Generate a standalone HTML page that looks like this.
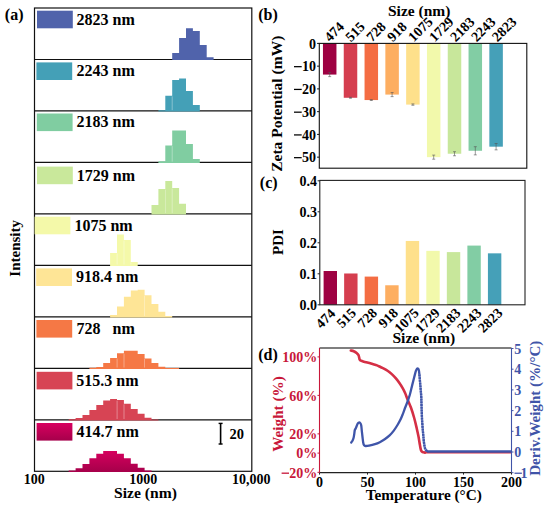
<!DOCTYPE html>
<html><head><meta charset="utf-8"><style>
html,body{margin:0;padding:0;background:#fff;}
body{width:550px;height:509px;overflow:hidden;}
svg{display:block;}
</style></head><body>
<svg width="550" height="509" viewBox="0 0 550 509" font-family="Liberation Serif" font-weight="bold">
<rect width="550" height="509" fill="#fff"/>
<defs><linearGradient id="gmag" x1="0" y1="0" x2="0" y2="1"><stop offset="0" stop-color="#d8005f"/><stop offset="1" stop-color="#a6004b"/></linearGradient><linearGradient id="gmag2" gradientUnits="userSpaceOnUse" x1="0" y1="450" x2="0" y2="471"><stop offset="0" stop-color="#d8005f"/><stop offset="1" stop-color="#a8004b"/></linearGradient></defs>
<line x1="34.50" y1="59.48" x2="251.80" y2="59.48" stroke="#111" stroke-width="1.2" />
<line x1="34.50" y1="110.96" x2="251.80" y2="110.96" stroke="#111" stroke-width="1.2" />
<line x1="34.50" y1="162.43" x2="251.80" y2="162.43" stroke="#111" stroke-width="1.2" />
<line x1="34.50" y1="213.91" x2="251.80" y2="213.91" stroke="#111" stroke-width="1.2" />
<line x1="34.50" y1="265.39" x2="251.80" y2="265.39" stroke="#111" stroke-width="1.2" />
<line x1="34.50" y1="316.87" x2="251.80" y2="316.87" stroke="#111" stroke-width="1.2" />
<line x1="34.50" y1="368.34" x2="251.80" y2="368.34" stroke="#111" stroke-width="1.2" />
<line x1="34.50" y1="419.82" x2="251.80" y2="419.82" stroke="#111" stroke-width="1.2" />
<rect x="34.5" y="8.0" width="217.30" height="463.30" fill="none" stroke="#111" stroke-width="1.2"/>
<rect x="37.00" y="10.70" width="35.80" height="17.60" fill="#5063ab" />
<text x="76.60" y="24.60" font-size="16" text-anchor="start" fill="#000" >2823 nm</text>
<path d="M172.20,60.08 L172.20,52.90 L179.10,52.90 L179.10,38.00 L186.00,38.00 L186.00,28.20 L192.90,28.20 L192.90,31.10 L199.80,31.10 L199.80,45.10 L206.70,45.10 L206.70,57.30 L213.60,57.30 L213.60,60.08 Z" fill="#5063ab"/>
<rect x="36.40" y="62.40" width="35.80" height="17.60" fill="#44a0b7" />
<text x="76.60" y="76.30" font-size="16" text-anchor="start" fill="#000" >2243 nm</text>
<path d="M158.40,111.56 L158.40,110.20 L165.30,110.20 L165.30,95.80 L172.20,95.80 L172.20,80.00 L179.10,80.00 L179.10,78.50 L186.00,78.50 L186.00,90.90 L192.90,90.90 L192.90,104.90 L199.80,104.90 L199.80,111.56 Z" fill="#44a0b7"/>
<line x1="172.20" y1="96.30" x2="172.20" y2="110.16" stroke="#fff" stroke-width="0.6" opacity="0.6"/>
<rect x="36.80" y="113.50" width="35.80" height="17.60" fill="#80cda1" />
<text x="76.60" y="127.40" font-size="16" text-anchor="start" fill="#000" >2183 nm</text>
<path d="M158.40,163.03 L158.40,161.20 L165.30,161.20 L165.30,145.60 L172.20,145.60 L172.20,130.60 L179.10,130.60 L179.10,130.60 L186.00,130.60 L186.00,144.00 L192.90,144.00 L192.90,158.90 L199.80,158.90 L199.80,163.03 Z" fill="#80cda1"/>
<line x1="172.20" y1="146.10" x2="172.20" y2="161.63" stroke="#fff" stroke-width="0.6" opacity="0.6"/>
<rect x="37.00" y="166.60" width="35.80" height="17.60" fill="#c9e89b" />
<text x="76.80" y="180.50" font-size="16" text-anchor="start" fill="#000" >1729 nm</text>
<path d="M151.50,214.51 L151.50,205.10 L158.40,205.10 L158.40,189.10 L165.30,189.10 L165.30,180.90 L172.20,180.90 L172.20,188.00 L179.10,188.00 L179.10,203.80 L186.00,203.80 L186.00,214.51 Z" fill="#c9e89b"/>
<line x1="165.30" y1="189.60" x2="165.30" y2="213.11" stroke="#fff" stroke-width="0.6" opacity="0.6"/>
<line x1="172.20" y1="188.50" x2="172.20" y2="213.11" stroke="#fff" stroke-width="0.6" opacity="0.6"/>
<rect x="34.60" y="216.70" width="35.80" height="17.60" fill="#f4f9a9" />
<text x="74.40" y="230.60" font-size="16" text-anchor="start" fill="#000" >1075 nm</text>
<path d="M110.10,265.99 L110.10,252.90 L117.00,252.90 L117.00,234.40 L123.90,234.40 L123.90,240.00 L130.80,240.00 L130.80,262.00 L137.70,262.00 L137.70,265.99 Z" fill="#f4f9a9"/>
<line x1="117.10" y1="253.40" x2="117.10" y2="264.59" stroke="#fff" stroke-width="0.6" opacity="0.6"/>
<line x1="124.00" y1="240.50" x2="124.00" y2="264.59" stroke="#fff" stroke-width="0.6" opacity="0.6"/>
<line x1="130.90" y1="262.50" x2="130.90" y2="264.59" stroke="#fff" stroke-width="0.6" opacity="0.6"/>
<rect x="36.20" y="268.40" width="35.80" height="17.60" fill="#fee596" />
<text x="76.00" y="282.30" font-size="16" text-anchor="start" fill="#000" >918.4 nm</text>
<path d="M110.10,317.47 L110.10,314.90 L117.00,314.90 L117.00,306.60 L123.90,306.60 L123.90,296.80 L130.80,296.80 L130.80,290.50 L137.70,290.50 L137.70,289.80 L144.60,289.80 L144.60,295.20 L151.50,295.20 L151.50,304.10 L158.40,304.10 L158.40,311.80 L165.30,311.80 L165.30,316.00 L172.20,316.00 L172.20,317.47 Z" fill="#fee596"/>
<line x1="144.60" y1="295.70" x2="144.60" y2="316.07" stroke="#fff" stroke-width="0.6" opacity="0.6"/>
<rect x="36.40" y="320.00" width="35.80" height="17.60" fill="#f57845" />
<text x="76.60" y="333.90" font-size="16" text-anchor="start" fill="#000" >728&#160;&#160;&#160;nm</text>
<path d="M89.40,368.94 L89.40,367.80 L96.30,367.80 L96.30,367.00 L103.20,367.00 L103.20,363.00 L110.10,363.00 L110.10,358.00 L117.00,358.00 L117.00,353.20 L123.90,353.20 L123.90,350.70 L130.80,350.70 L130.80,350.80 L137.70,350.80 L137.70,353.90 L144.60,353.90 L144.60,358.50 L151.50,358.50 L151.50,363.10 L158.40,363.10 L158.40,366.70 L165.30,366.70 L165.30,367.94 L172.20,367.94 L172.20,367.94 L179.10,367.94 L179.10,368.94 Z" fill="#f57845"/>
<line x1="117.10" y1="358.50" x2="117.10" y2="367.54" stroke="#fff" stroke-width="0.6" opacity="0.6"/>
<line x1="124.00" y1="353.70" x2="124.00" y2="367.54" stroke="#fff" stroke-width="0.6" opacity="0.6"/>
<line x1="144.60" y1="359.00" x2="144.60" y2="367.54" stroke="#fff" stroke-width="0.6" opacity="0.6"/>
<rect x="36.60" y="371.80" width="35.80" height="17.60" fill="#d74454" />
<text x="76.30" y="385.70" font-size="16" text-anchor="start" fill="#000" >515.3 nm</text>
<path d="M68.70,420.42 L68.70,419.30 L75.60,419.30 L75.60,417.90 L82.50,417.90 L82.50,415.00 L89.40,415.00 L89.40,410.10 L96.30,410.10 L96.30,405.00 L103.20,405.00 L103.20,400.50 L110.10,400.50 L110.10,399.10 L117.00,399.10 L117.00,400.10 L123.90,400.10 L123.90,403.80 L130.80,403.80 L130.80,409.00 L137.70,409.00 L137.70,413.70 L144.60,413.70 L144.60,417.80 L151.50,417.80 L151.50,419.42 L158.40,419.42 L158.40,420.42 Z" fill="#d74454"/>
<line x1="117.10" y1="400.60" x2="117.10" y2="419.02" stroke="#fff" stroke-width="0.6" opacity="0.6"/>
<line x1="124.00" y1="404.30" x2="124.00" y2="419.02" stroke="#fff" stroke-width="0.6" opacity="0.6"/>
<rect x="36.60" y="423.00" width="35.80" height="17.60" fill="url(#gmag)" />
<text x="76.60" y="436.90" font-size="16" text-anchor="start" fill="#000" >414.7 nm</text>
<path d="M68.70,471.90 L68.70,470.40 L75.60,470.40 L75.60,468.20 L82.50,468.20 L82.50,464.10 L89.40,464.10 L89.40,458.30 L96.30,458.30 L96.30,453.80 L103.20,453.80 L103.20,450.90 L110.10,450.90 L110.10,450.90 L117.00,450.90 L117.00,453.80 L123.90,453.80 L123.90,458.30 L130.80,458.30 L130.80,463.70 L137.70,463.70 L137.70,467.80 L144.60,467.80 L144.60,470.40 L151.50,470.40 L151.50,471.90 Z" fill="url(#gmag2)"/>
<text x="34.30" y="483.80" font-size="14" text-anchor="middle" fill="#000" >100</text>
<text x="143.30" y="483.80" font-size="14" text-anchor="middle" fill="#000" >1000</text>
<text x="251.20" y="483.80" font-size="14" text-anchor="middle" fill="#000" >10,000</text>
<text transform="translate(145.5,498.4) scale(1.04,1)" font-size="15" text-anchor="middle">Size (nm)</text>
<text transform="translate(20.4,248.3) rotate(-90)" font-size="15" text-anchor="middle">Intensity</text>
<text x="4.80" y="19.85" font-size="16" text-anchor="start" fill="#000" >(a)</text>
<line x1="220.60" y1="423.20" x2="220.60" y2="444.20" stroke="#000" stroke-width="1.6" />
<line x1="218.60" y1="423.40" x2="222.60" y2="423.40" stroke="#000" stroke-width="1.4" />
<line x1="218.60" y1="444.00" x2="222.60" y2="444.00" stroke="#000" stroke-width="1.4" />
<text x="229.40" y="439.00" font-size="14.5" text-anchor="start" fill="#000" >20</text>
<rect x="322.95" y="43.40" width="13.50" height="31.17" fill="#9e0142" />
<line x1="329.70" y1="76.61" x2="329.70" y2="72.52" stroke="#555" stroke-width="0.6" />
<line x1="328.20" y1="76.61" x2="331.20" y2="76.61" stroke="#555" stroke-width="0.6" />
<line x1="328.20" y1="72.52" x2="331.20" y2="72.52" stroke="#555" stroke-width="0.6" />
<text transform="translate(330.00,42.5) rotate(-45)" font-size="14">474</text>
<rect x="343.75" y="43.40" width="13.50" height="54.37" fill="#d53e4f" />
<line x1="350.50" y1="98.23" x2="350.50" y2="97.32" stroke="#555" stroke-width="0.6" />
<line x1="349.00" y1="98.23" x2="352.00" y2="98.23" stroke="#555" stroke-width="0.6" />
<line x1="349.00" y1="97.32" x2="352.00" y2="97.32" stroke="#555" stroke-width="0.6" />
<text transform="translate(350.95,42.5) rotate(-45)" font-size="14">515</text>
<rect x="364.55" y="43.40" width="13.50" height="56.65" fill="#f46d43" />
<line x1="371.30" y1="100.50" x2="371.30" y2="99.59" stroke="#555" stroke-width="0.6" />
<line x1="369.80" y1="100.50" x2="372.80" y2="100.50" stroke="#555" stroke-width="0.6" />
<line x1="369.80" y1="99.59" x2="372.80" y2="99.59" stroke="#555" stroke-width="0.6" />
<text transform="translate(371.90,42.5) rotate(-45)" font-size="14">728</text>
<rect x="385.35" y="43.40" width="13.50" height="51.19" fill="#fdae61" />
<line x1="392.10" y1="96.63" x2="392.10" y2="92.54" stroke="#555" stroke-width="0.6" />
<line x1="390.60" y1="96.63" x2="393.60" y2="96.63" stroke="#555" stroke-width="0.6" />
<line x1="390.60" y1="92.54" x2="393.60" y2="92.54" stroke="#555" stroke-width="0.6" />
<text transform="translate(392.85,42.5) rotate(-45)" font-size="14">918</text>
<rect x="406.15" y="43.40" width="13.50" height="61.20" fill="#fee08b" />
<line x1="412.90" y1="105.28" x2="412.90" y2="103.91" stroke="#555" stroke-width="0.6" />
<line x1="411.40" y1="105.28" x2="414.40" y2="105.28" stroke="#555" stroke-width="0.6" />
<line x1="411.40" y1="103.91" x2="414.40" y2="103.91" stroke="#555" stroke-width="0.6" />
<text transform="translate(413.80,42.5) rotate(-45)" font-size="14">1075</text>
<rect x="426.95" y="43.40" width="13.50" height="113.75" fill="#f2f9ab" />
<line x1="433.70" y1="159.20" x2="433.70" y2="155.10" stroke="#555" stroke-width="0.6" />
<line x1="432.20" y1="159.20" x2="435.20" y2="159.20" stroke="#555" stroke-width="0.6" />
<line x1="432.20" y1="155.10" x2="435.20" y2="155.10" stroke="#555" stroke-width="0.6" />
<text transform="translate(434.75,42.5) rotate(-45)" font-size="14">1729</text>
<rect x="447.75" y="43.40" width="13.50" height="110.34" fill="#c8e79b" />
<line x1="454.50" y1="155.78" x2="454.50" y2="151.69" stroke="#555" stroke-width="0.6" />
<line x1="453.00" y1="155.78" x2="456.00" y2="155.78" stroke="#555" stroke-width="0.6" />
<line x1="453.00" y1="151.69" x2="456.00" y2="151.69" stroke="#555" stroke-width="0.6" />
<text transform="translate(455.70,42.5) rotate(-45)" font-size="14">2183</text>
<rect x="468.55" y="43.40" width="13.50" height="107.38" fill="#82cda4" />
<line x1="475.30" y1="154.88" x2="475.30" y2="146.69" stroke="#555" stroke-width="0.6" />
<line x1="473.80" y1="154.88" x2="476.80" y2="154.88" stroke="#555" stroke-width="0.6" />
<line x1="473.80" y1="146.69" x2="476.80" y2="146.69" stroke="#555" stroke-width="0.6" />
<text transform="translate(476.65,42.5) rotate(-45)" font-size="14">2243</text>
<rect x="489.35" y="43.40" width="13.50" height="103.28" fill="#45a0b8" />
<line x1="496.10" y1="149.87" x2="496.10" y2="143.50" stroke="#555" stroke-width="0.6" />
<line x1="494.60" y1="149.87" x2="497.60" y2="149.87" stroke="#555" stroke-width="0.6" />
<line x1="494.60" y1="143.50" x2="497.60" y2="143.50" stroke="#555" stroke-width="0.6" />
<text transform="translate(497.60,42.5) rotate(-45)" font-size="14">2823</text>
<rect x="319.3" y="43.4" width="207.50" height="124.80" fill="none" stroke="#111" stroke-width="1.1"/>
<line x1="317.10" y1="43.40" x2="319.30" y2="43.40" stroke="#111" stroke-width="1" />
<text x="316.00" y="48.60" font-size="14" text-anchor="end" fill="#000" >0</text>
<line x1="317.10" y1="66.15" x2="319.30" y2="66.15" stroke="#111" stroke-width="1" />
<text x="316.00" y="71.35" font-size="14" text-anchor="end" fill="#000" >10</text>
<rect x="294.00" y="66.05" width="7.70" height="1.25" fill="#000" />
<line x1="317.10" y1="88.90" x2="319.30" y2="88.90" stroke="#111" stroke-width="1" />
<text x="316.00" y="94.10" font-size="14" text-anchor="end" fill="#000" >20</text>
<rect x="294.00" y="88.80" width="7.70" height="1.25" fill="#000" />
<line x1="317.10" y1="111.65" x2="319.30" y2="111.65" stroke="#111" stroke-width="1" />
<text x="316.00" y="116.85" font-size="14" text-anchor="end" fill="#000" >30</text>
<rect x="294.00" y="111.55" width="7.70" height="1.25" fill="#000" />
<line x1="317.10" y1="134.40" x2="319.30" y2="134.40" stroke="#111" stroke-width="1" />
<text x="316.00" y="139.60" font-size="14" text-anchor="end" fill="#000" >40</text>
<rect x="294.00" y="134.30" width="7.70" height="1.25" fill="#000" />
<line x1="317.10" y1="157.15" x2="319.30" y2="157.15" stroke="#111" stroke-width="1" />
<text x="316.00" y="162.35" font-size="14" text-anchor="end" fill="#000" >50</text>
<rect x="294.00" y="157.05" width="7.70" height="1.25" fill="#000" />
<text transform="translate(419.2,15.6) scale(1.035,1)" font-size="15" text-anchor="middle">Size (nm)</text>
<text transform="translate(281.8,103.75) rotate(-90) scale(1.035,1)" font-size="15" text-anchor="middle">Zeta Potential (mW)</text>
<text x="258.20" y="20.00" font-size="16" text-anchor="start" fill="#000" >(b)</text>
<rect x="323.60" y="271.01" width="13.40" height="33.79" fill="#9e0142" />
<text transform="translate(336.10,314.30) rotate(-45)" font-size="14" text-anchor="end">474</text>
<rect x="344.14" y="273.49" width="13.40" height="31.31" fill="#d53e4f" />
<text transform="translate(357.01,313.80) rotate(-45)" font-size="14" text-anchor="end">515</text>
<rect x="364.68" y="276.59" width="13.40" height="28.21" fill="#f46d43" />
<text transform="translate(377.92,313.80) rotate(-45)" font-size="14" text-anchor="end">728</text>
<rect x="385.22" y="285.27" width="13.40" height="19.53" fill="#fdae61" />
<text transform="translate(398.83,313.80) rotate(-45)" font-size="14" text-anchor="end">918</text>
<rect x="405.76" y="240.94" width="13.40" height="63.86" fill="#fee08b" />
<text transform="translate(419.74,313.80) rotate(-45)" font-size="14" text-anchor="end">1075</text>
<rect x="426.30" y="250.86" width="13.40" height="53.94" fill="#f2f9ab" />
<text transform="translate(440.65,313.80) rotate(-45)" font-size="14" text-anchor="end">1729</text>
<rect x="446.84" y="252.10" width="13.40" height="52.70" fill="#c8e79b" />
<text transform="translate(461.56,313.80) rotate(-45)" font-size="14" text-anchor="end">2183</text>
<rect x="467.38" y="245.59" width="13.40" height="59.21" fill="#82cda4" />
<text transform="translate(482.47,313.80) rotate(-45)" font-size="14" text-anchor="end">2243</text>
<rect x="487.92" y="253.34" width="13.40" height="51.46" fill="#45a0b8" />
<text transform="translate(503.38,313.80) rotate(-45)" font-size="14" text-anchor="end">2823</text>
<rect x="319.8" y="180.4" width="205.20" height="124.40" fill="none" stroke="#222" stroke-width="1.1"/>
<line x1="317.60" y1="304.80" x2="319.80" y2="304.80" stroke="#222" stroke-width="1" />
<text x="316.90" y="309.50" font-size="14" text-anchor="end" fill="#000" >0.0</text>
<line x1="317.60" y1="273.80" x2="319.80" y2="273.80" stroke="#222" stroke-width="1" />
<text x="316.90" y="278.50" font-size="14" text-anchor="end" fill="#000" >0.1</text>
<line x1="317.60" y1="242.80" x2="319.80" y2="242.80" stroke="#222" stroke-width="1" />
<text x="316.90" y="247.50" font-size="14" text-anchor="end" fill="#000" >0.2</text>
<line x1="317.60" y1="211.80" x2="319.80" y2="211.80" stroke="#222" stroke-width="1" />
<text x="316.90" y="216.50" font-size="14" text-anchor="end" fill="#000" >0.3</text>
<line x1="317.60" y1="180.80" x2="319.80" y2="180.80" stroke="#222" stroke-width="1" />
<text x="316.90" y="185.50" font-size="14" text-anchor="end" fill="#000" >0.4</text>
<text transform="translate(423.8,342.7) scale(1.04,1)" font-size="15" text-anchor="middle">Size (nm)</text>
<text transform="translate(283.3,242.0) rotate(-90)" font-size="15" text-anchor="middle">PDI</text>
<text x="259.80" y="187.80" font-size="16" text-anchor="start" fill="#000" >(c)</text>
<path d="M350.80,350.50 C351.28,350.62 352.73,350.78 353.70,351.20 C354.67,351.62 355.80,352.33 356.60,353.00 C357.40,353.67 358.07,354.42 358.50,355.20 C358.93,355.98 359.00,356.97 359.20,357.70 C359.40,358.43 359.42,359.10 359.70,359.60 C359.98,360.10 360.20,360.35 360.90,360.70 C361.60,361.05 362.67,361.35 363.90,361.70 C365.13,362.05 366.85,362.40 368.30,362.80 C369.75,363.20 371.15,363.67 372.60,364.10 C374.05,364.53 375.68,364.92 377.00,365.40 C378.32,365.88 379.35,366.47 380.50,367.00 C381.65,367.53 382.67,367.93 383.90,368.60 C385.13,369.27 386.58,370.08 387.90,371.00 C389.22,371.92 390.50,372.92 391.80,374.10 C393.10,375.28 394.40,376.58 395.70,378.10 C397.00,379.62 398.42,381.50 399.60,383.20 C400.78,384.90 401.88,386.67 402.80,388.30 C403.72,389.93 404.30,391.13 405.10,393.00 C405.90,394.87 406.62,397.03 407.60,399.50 C408.58,401.97 409.90,404.72 411.00,407.80 C412.10,410.88 413.25,414.60 414.20,418.00 C415.15,421.40 415.97,425.02 416.70,428.20 C417.43,431.38 418.07,434.33 418.60,437.10 C419.13,439.87 419.50,442.62 419.90,444.80 C420.30,446.98 420.55,448.97 421.00,450.20 C421.45,451.43 421.93,451.80 422.60,452.20 C423.27,452.60 424.60,452.53 425.00,452.60" fill="none" stroke="#d52f45" stroke-width="2.6" stroke-linejoin="round" stroke-linecap="round"/>
<line x1="424" y1="452.5" x2="511.5" y2="452.5" stroke="#d52f45" stroke-width="2.0"/>
<path d="M351.20,442.50 C351.43,442.15 352.20,441.20 352.60,440.40 C353.00,439.60 353.32,438.83 353.60,437.70 C353.88,436.57 354.10,434.87 354.30,433.60 C354.50,432.33 354.57,430.97 354.80,430.10 C355.03,429.23 355.38,429.08 355.70,428.40 C356.02,427.72 356.37,426.80 356.70,426.00 C357.03,425.20 357.33,424.18 357.70,423.60 C358.07,423.02 358.50,422.62 358.90,422.50 C359.30,422.38 359.72,422.43 360.10,422.90 C360.48,423.37 360.92,423.98 361.20,425.30 C361.48,426.62 361.58,428.85 361.80,430.80 C362.02,432.75 362.27,435.05 362.50,437.00 C362.73,438.95 362.95,441.13 363.20,442.50 C363.45,443.87 363.60,444.62 364.00,445.20 C364.40,445.78 364.75,445.93 365.60,446.00 C366.45,446.07 367.55,445.90 369.10,445.60 C370.65,445.30 373.12,444.77 374.90,444.20 C376.68,443.63 378.17,443.02 379.80,442.20 C381.43,441.38 383.07,440.43 384.70,439.30 C386.33,438.17 388.12,436.80 389.60,435.40 C391.08,434.00 392.28,432.63 393.60,430.90 C394.92,429.17 396.35,426.88 397.50,425.00 C398.65,423.12 399.60,421.47 400.50,419.60 C401.40,417.73 402.15,415.73 402.90,413.80 C403.65,411.87 404.25,409.97 405.00,408.00 C405.75,406.03 406.58,404.25 407.40,402.00 C408.22,399.75 409.10,397.32 409.90,394.50 C410.70,391.68 411.48,387.97 412.20,385.10 C412.92,382.23 413.60,379.62 414.20,377.30 C414.80,374.98 415.33,372.63 415.80,371.20 C416.27,369.77 416.62,369.12 417.00,368.70 C417.38,368.28 417.78,368.42 418.10,368.70 C418.42,368.98 418.68,369.43 418.90,370.40 C419.12,371.37 419.32,373.82 419.40,374.50" fill="none" stroke="#3f55a9" stroke-width="2.3" stroke-linejoin="round" stroke-linecap="round"/>
<path d="M419.40,374.50 C419.55,376.25 420.00,381.42 420.30,385.00 C420.60,388.58 420.98,392.20 421.20,396.00 C421.42,399.80 421.45,403.72 421.60,407.80 C421.75,411.88 421.85,416.25 422.10,420.50 C422.35,424.75 422.77,429.47 423.10,433.30 C423.43,437.13 423.72,440.83 424.10,443.50 C424.48,446.17 424.82,447.98 425.40,449.30 C425.98,450.62 427.23,451.05 427.60,451.40" fill="none" stroke="#8a98cc" stroke-width="2.2"/>
<path d="M419.40,374.50 C419.55,376.25 420.00,381.42 420.30,385.00 C420.60,388.58 420.98,392.20 421.20,396.00 C421.42,399.80 421.45,403.72 421.60,407.80 C421.75,411.88 421.85,416.25 422.10,420.50 C422.35,424.75 422.77,429.47 423.10,433.30 C423.43,437.13 423.72,440.83 424.10,443.50 C424.48,446.17 424.82,447.98 425.40,449.30 C425.98,450.62 427.23,451.05 427.60,451.40" fill="none" stroke="#3f55a9" stroke-width="2.4" stroke-dasharray="2.0 0.7"/>
<line x1="427" y1="451.5" x2="511.5" y2="451.5" stroke="#3f55a9" stroke-width="2.3"/>
<line x1="319.50" y1="348.00" x2="511.50" y2="348.00" stroke="#555" stroke-width="1.4" />
<line x1="319.50" y1="472.60" x2="511.50" y2="472.60" stroke="#222" stroke-width="1.2" />
<line x1="319.50" y1="348.00" x2="319.50" y2="472.60" stroke="#c8173a" stroke-width="1.1" />
<line x1="511.50" y1="348.00" x2="511.50" y2="472.60" stroke="#4054a8" stroke-width="1.1" />
<line x1="317.50" y1="356.90" x2="319.50" y2="356.90" stroke="#c8173a" stroke-width="1" />
<text x="317.30" y="362.20" font-size="14" text-anchor="end" fill="#c8173a" >100%</text>
<line x1="317.50" y1="395.38" x2="319.50" y2="395.38" stroke="#c8173a" stroke-width="1" />
<text x="317.30" y="400.68" font-size="14" text-anchor="end" fill="#c8173a" >60%</text>
<line x1="317.50" y1="433.86" x2="319.50" y2="433.86" stroke="#c8173a" stroke-width="1" />
<text x="317.30" y="439.16" font-size="14" text-anchor="end" fill="#c8173a" >20%</text>
<line x1="317.50" y1="453.10" x2="319.50" y2="453.10" stroke="#c8173a" stroke-width="1" />
<text x="317.30" y="458.40" font-size="14" text-anchor="end" fill="#c8173a" >0%</text>
<line x1="317.50" y1="472.34" x2="319.50" y2="472.34" stroke="#c8173a" stroke-width="1" />
<text x="317.30" y="477.64" font-size="14" text-anchor="end" fill="#c8173a" >20%</text>
<rect x="281.60" y="472.54" width="7.40" height="1.30" fill="#c8173a" />
<line x1="511.50" y1="348.50" x2="513.50" y2="348.50" stroke="#4054a8" stroke-width="1" />
<text x="514.30" y="353.50" font-size="14" text-anchor="start" fill="#4054a8" >5</text>
<line x1="511.50" y1="369.20" x2="513.50" y2="369.20" stroke="#4054a8" stroke-width="1" />
<text x="514.30" y="374.20" font-size="14" text-anchor="start" fill="#4054a8" >4</text>
<line x1="511.50" y1="389.90" x2="513.50" y2="389.90" stroke="#4054a8" stroke-width="1" />
<text x="514.30" y="394.90" font-size="14" text-anchor="start" fill="#4054a8" >3</text>
<line x1="511.50" y1="410.60" x2="513.50" y2="410.60" stroke="#4054a8" stroke-width="1" />
<text x="514.30" y="415.60" font-size="14" text-anchor="start" fill="#4054a8" >2</text>
<line x1="511.50" y1="431.30" x2="513.50" y2="431.30" stroke="#4054a8" stroke-width="1" />
<text x="514.30" y="436.30" font-size="14" text-anchor="start" fill="#4054a8" >1</text>
<line x1="511.50" y1="452.00" x2="513.50" y2="452.00" stroke="#4054a8" stroke-width="1" />
<text x="514.30" y="457.00" font-size="14" text-anchor="start" fill="#4054a8" >0</text>
<line x1="511.50" y1="472.70" x2="513.50" y2="472.70" stroke="#4054a8" stroke-width="1" />
<rect x="514.50" y="472.60" width="7.40" height="1.25" fill="#4054a8" />
<text x="520.60" y="477.70" font-size="14" text-anchor="start" fill="#4054a8" >1</text>
<line x1="319.50" y1="472.60" x2="319.50" y2="474.60" stroke="#222" stroke-width="1" />
<text x="319.50" y="486.60" font-size="14" text-anchor="middle" fill="#000" >0</text>
<line x1="367.50" y1="472.60" x2="367.50" y2="474.60" stroke="#222" stroke-width="1" />
<text x="367.50" y="486.60" font-size="14" text-anchor="middle" fill="#000" >50</text>
<line x1="415.50" y1="472.60" x2="415.50" y2="474.60" stroke="#222" stroke-width="1" />
<text x="415.50" y="486.60" font-size="14" text-anchor="middle" fill="#000" >100</text>
<line x1="463.50" y1="472.60" x2="463.50" y2="474.60" stroke="#222" stroke-width="1" />
<text x="463.50" y="486.60" font-size="14" text-anchor="middle" fill="#000" >150</text>
<line x1="511.50" y1="472.60" x2="511.50" y2="474.60" stroke="#222" stroke-width="1" />
<text x="511.50" y="486.60" font-size="14" text-anchor="middle" fill="#000" >200</text>
<text x="423.80" y="500.00" font-size="15.3" text-anchor="middle" fill="#000" >Temperature (&#176;C)</text>
<text transform="translate(283.0,414.0) rotate(-90)" font-size="15.2" text-anchor="middle" fill="#c8173a">Weight (%)</text>
<text transform="translate(540.2,408.2) rotate(-90)" font-size="15.1" text-anchor="middle" fill="#4054a8">Deriv.Weight (%/&#176;C)</text>
<text x="258.20" y="359.85" font-size="16" text-anchor="start" fill="#000" >(d)</text>
</svg>
</body></html>
